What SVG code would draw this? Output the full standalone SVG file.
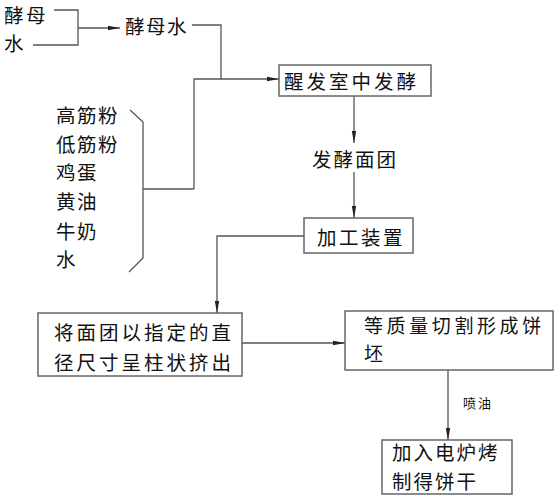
<svg xmlns="http://www.w3.org/2000/svg" width="558" height="500" viewBox="0 0 558 500">
<style>
text{font-family:"Noto Sans CJK SC","Noto Sans",sans-serif;fill:#111;font-size:19.5px;letter-spacing:2.5px}
.l{fill:none;stroke:#555;stroke-width:1.3}
.b{fill:#fff;stroke:#666;stroke-width:1.5}
.s{font-size:13px;letter-spacing:2px}
</style>
<defs>
<marker id="a" markerWidth="12" markerHeight="6" refX="12" refY="3" orient="auto" markerUnits="userSpaceOnUse">
<path d="M0,0.8 L12,3 L0,5.2 Z" fill="#222"/>
</marker>
</defs>
<rect width="558" height="500" fill="#fff"/>
<g id="connectors">
<path class="l" d="M54,10 H78 V45 H33"/>
<path class="l" d="M78,28 H120" marker-end="url(#a)"/>
<path class="l" d="M192,25 H221 V79"/>
<path class="l" d="M194,189 V79 H279" marker-end="url(#a)"/>
<path class="l" d="M130,110 L143,122 V258 L129,272"/>
<path class="l" d="M143,189 H194"/>
<path class="l" d="M354,96 V143" marker-end="url(#a)"/>
<path class="l" d="M354,172 V218" marker-end="url(#a)"/>
<path class="l" d="M304,236 H217 V313" marker-end="url(#a)"/>
<path class="l" d="M242,343 H345" marker-end="url(#a)"/>
<path class="l" d="M448,370 V440" marker-end="url(#a)"/>
</g>
<g id="yeast"><text x="4" y="23">酵母</text></g>
<g id="water"><text x="4" y="51">水</text></g>
<g id="yeastwater"><text x="125" y="34" style="letter-spacing:1.5px">酵母水</text></g>
<g id="ingredients">
<text x="56" y="123" style="letter-spacing:1.5px">高筋粉</text>
<text x="56" y="152" style="letter-spacing:1.5px">低筋粉</text>
<text x="56" y="180" style="letter-spacing:1.5px">鸡蛋</text>
<text x="56" y="209" style="letter-spacing:1.5px">黄油</text>
<text x="56" y="239" style="letter-spacing:1.5px">牛奶</text>
<text x="56" y="267" style="letter-spacing:1.5px">水</text>
</g>
<g id="proof"><rect class="b" x="279" y="65" width="152" height="31"/><text x="284" y="89" style="letter-spacing:3px">醒发室中发酵</text></g>
<g id="dough"><text x="312" y="167" style="letter-spacing:2px">发酵面团</text></g>
<g id="device"><rect class="b" x="304" y="218" width="109" height="35"/><text x="317" y="245">加工装置</text></g>
<g id="extrude"><rect class="b" x="38" y="313" width="204" height="63"/><text x="54" y="340" style="letter-spacing:3px">将面团以指定的直</text><text x="54" y="370" style="letter-spacing:3px">径尺寸呈柱状挤出</text></g>
<g id="cut"><rect class="b" x="345" y="311" width="208" height="59"/><text x="364" y="333" style="font-size:19px;letter-spacing:3.6px">等质量切割形成饼</text><text x="364" y="361" style="font-size:19px">坯</text></g>
<g id="oil"><text class="s" x="463" y="408">喷油</text></g>
<g id="bake"><rect class="b" x="382" y="440" width="130" height="54"/><text x="392" y="460" style="letter-spacing:2px">加入电炉烤</text><text x="392" y="489" style="letter-spacing:2px">制得饼干</text></g>
</svg>
